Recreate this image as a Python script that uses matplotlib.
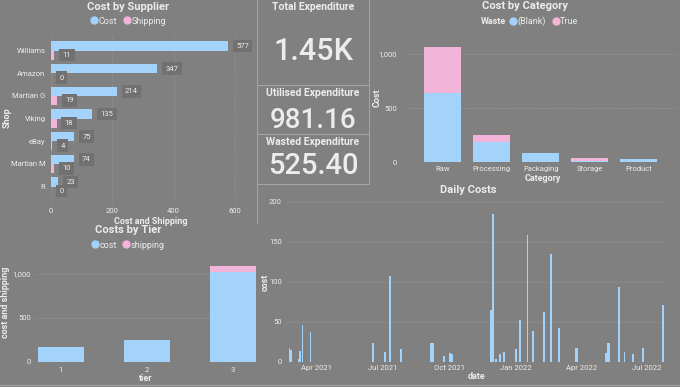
import matplotlib
matplotlib.use("Agg")
import matplotlib.pyplot as plt
import matplotlib.dates as mdates
from matplotlib.lines import Line2D
import numpy as np
import pandas as pd

plt.rcParams["font.family"] = ["Roboto", "DejaVu Sans"]

# --- data ---
shops = ["Williams", "Amazon", "Martian G", "Viking", "eBay", "Martian M", "R"]
shop_cost = [577, 347, 214, 135, 75, 74, 23]
shop_shipping = [11, 0, 19, 18, 4, 10, 0]

categories = ["Raw", "Processing", "Packaging", "Storage", "Product"]
cat_blank = [642, 185, 85, 10, 28]
cat_true = [423, 63, 0, 26, 0]

tiers = ["1", "2", "3"]
tier_cost = [168, 250, 1027]
tier_shipping = [3, 0, 60]

day_dates = ["2021-02-22", "2021-02-24", "2021-03-07", "2021-03-09", "2021-03-12", "2021-03-23",
             "2021-06-17", "2021-07-04", "2021-07-11", "2021-07-26",
             "2021-09-05", "2021-09-08", "2021-09-23", "2021-10-02", "2021-10-05",
             "2021-11-28", "2021-11-30", "2021-12-05", "2021-12-10", "2021-12-16",
             "2022-01-01", "2022-01-06", "2022-01-17", "2022-01-24", "2022-02-09",
             "2022-02-18", "2022-03-02", "2022-03-25", "2022-03-27",
             "2022-05-06", "2022-05-08", "2022-05-10", "2022-05-23", "2022-05-31",
             "2022-06-12", "2022-06-26", "2022-07-23"]
day_cost = [18, 15, 4, 14, 46, 38,
            24, 13, 108, 16,
            24, 24, 8, 11, 10,
            65, 185, 4, 10, 13,
            16, 53, 159, 39, 63,
            135, 42, 17, 17,
            11, 24, 24, 94, 13,
            10, 18, 71]

card_titles = ["Total Expenditure", "Utilised Expenditure", "Wasted Expenditure"]
card_values = ["1.45K", "981.16", "525.40"]

BG = "#808080"
BLUE = "#a3d2fb"
PINK = "#f3b4da"
TXT = "#ececec"
GRID = "#a0a0a0"
BOX = "#717171"
LINE = "#a6a6a6"

W, H = 680, 387
fig = plt.figure(figsize=(W / 100, H / 100), dpi=100, facecolor=BG)


def rect(l, t, r, b):
    # pixel box -> figure fraction
    return [l / W, 1 - b / H, (r - l) / W, (b - t) / H]


def fx(x, y):
    return x / W, 1 - y / H


def style(ax):
    ax.set_facecolor(BG)
    for s in ax.spines.values():
        s.set_visible(False)
    ax.tick_params(length=0, colors=TXT, labelsize=5.5)


def ftext(x, y, s, size=8, weight="bold", **kw):
    fig.text(*fx(x, y), s, color=TXT, fontsize=size, fontweight=weight,
             ha=kw.pop("ha", "center"), va=kw.pop("va", "center"), **kw)


def legend_at(x, y, labels, colors, loc="center"):
    hs = [Line2D([], [], ls="none", marker="o", ms=5, mfc=c, mec=c) for c in colors]
    fig.legend(hs, labels, loc=loc, bbox_to_anchor=fx(x, y), ncol=len(labels),
               frameon=False, fontsize=6.5, labelcolor=TXT, handletextpad=0.05,
               columnspacing=0.6, handlelength=0.9, borderpad=0, borderaxespad=0)


# panel borders
for (x0, y0, x1, y1) in [(257, 0, 257, 223), (257, 85, 369, 85), (257, 134, 369, 134),
                         (257, 184, 369, 184), (369, 0, 369, 184), (0, 385, 680, 385)]:
    fig.add_artist(Line2D([x0 / W, x1 / W], [1 - y0 / H, 1 - y1 / H], color=LINE, lw=0.7))

# --- Cost by Supplier ---
ax = fig.add_axes(rect(51, 33.5, 250, 203.5))
style(ax)
y = np.arange(len(shops))
ax.barh(y - 0.2, shop_cost, height=0.4, color=BLUE)
ax.barh(y + 0.2, shop_shipping, height=0.4, color=PINK)
for yi, c, s in zip(y, shop_cost, shop_shipping):
    for yy, v in ((yi - 0.2, c), (yi + 0.2, s)):
        ax.annotate(f"{v}", (v, yy), xytext=(6, 0), textcoords="offset points",
                    va="center", ha="left", fontsize=5.5, color=TXT,
                    bbox=dict(boxstyle="square,pad=0.45", fc=BOX, ec="none"))
ax.set_xlim(0, 649)
ax.set_ylim(6.75, -0.75)
ax.set_yticks(y, shops)
ax.set_xticks([0, 200, 400, 600])
ax.xaxis.grid(True, color=GRID, ls=(0, (1, 2)), lw=0.6)
ax.set_axisbelow(True)
ax.tick_params(axis="y", pad=4)
ax.set_xlabel("Cost and Shipping", color=TXT, fontsize=6.5, fontweight="bold", labelpad=2)
ftext(7, 118, "Shop", size=6.5, rotation=90)
ftext(128, 7, "Cost by Supplier")
legend_at(128, 21, ["Cost", "Shipping"], [BLUE, PINK])

# --- cards ---
for (t, v, ty, vy, vs) in zip(card_titles, card_values, [7, 93, 142], [52, 120, 166], [22, 20, 21]):
    ftext(313, ty, t, size=7.5)
    ftext(313, vy, v, size=vs, weight="medium")

# --- Cost by Category ---
ax = fig.add_axes(rect(408, 35, 678, 162))
style(ax)
x = np.arange(len(categories))
ax.bar(x, cat_blank, width=0.755, color=BLUE)
ax.bar(x, cat_true, width=0.755, bottom=cat_blank, color=PINK)
ax.set_xlim(-0.71, 4.8)
ax.set_ylim(0, 1176)
ax.set_xticks(x, categories)
ax.set_yticks([0, 500, 1000], ["0", "500", "1,000"])
ax.yaxis.grid(True, color=GRID, ls=(0, (1, 2)), lw=0.6)
ax.set_axisbelow(True)
ax.tick_params(axis="y", pad=8)
ax.tick_params(axis="x", pad=3)
ax.set_xlabel("Category", color=TXT, fontsize=6.5, fontweight="bold", labelpad=1)
ftext(377, 98, "Cost", size=6.5, rotation=90)
ftext(525, 6, "Cost by Category")
ftext(506, 21, "Waste", size=6.5, ha="right")
legend_at(509, 21, ["(Blank)", "True"], [BLUE, PINK], loc="center left")

# --- Costs by Tier ---
ax = fig.add_axes(rect(35, 257, 257, 362))
style(ax)
x = np.arange(len(tiers))
ax.bar(x, tier_cost, width=0.54, color=BLUE)
ax.bar(x, tier_shipping, width=0.54, bottom=tier_cost, color=PINK)
ax.set_xlim(-0.3, 2.28)
ax.set_ylim(0, 1193)
ax.set_xticks(x, tiers)
ax.set_yticks([0, 500, 1000], ["0", "500", "1,000"])
ax.yaxis.grid(True, color=GRID, ls=(0, (1, 2)), lw=0.6)
ax.set_axisbelow(True)
ax.tick_params(axis="y", pad=3)
ax.set_xlabel("tier", color=TXT, fontsize=6.5, fontweight="bold", labelpad=1)
ftext(6, 302, "cost and shipping", size=6.5, rotation=90)
ftext(128, 230, "Costs by Tier")
legend_at(128, 245, ["cost", "shipping"], [BLUE, PINK])

# --- Daily Costs ---
ax = fig.add_axes(rect(287.3, 198, 665, 362))
style(ax)
d = pd.to_datetime(day_dates)
ax.bar(d, day_cost, width=2.6, color=BLUE, lw=0)
ax.set_xlim(pd.Timestamp("2021-02-19"), pd.Timestamp("2022-07-26"))
ax.set_ylim(0, 205)
ax.set_yticks([0, 50, 100, 150, 200])
ax.xaxis.set_major_locator(mdates.MonthLocator(bymonth=[1, 4, 7, 10]))
ax.xaxis.set_major_formatter(mdates.DateFormatter("%b %Y"))
ax.yaxis.grid(True, color=GRID, ls=(0, (1, 2)), lw=0.6)
ax.set_axisbelow(True)
ax.tick_params(axis="y", pad=4)
ax.tick_params(axis="x", pad=2)
ax.set_xlabel("date", color=TXT, fontsize=6.5, fontweight="bold", labelpad=1)
ftext(265, 282, "cost", size=6.5, rotation=90)
ftext(468, 190, "Daily Costs")

fig.savefig("out.png", dpi=100, facecolor=BG)
